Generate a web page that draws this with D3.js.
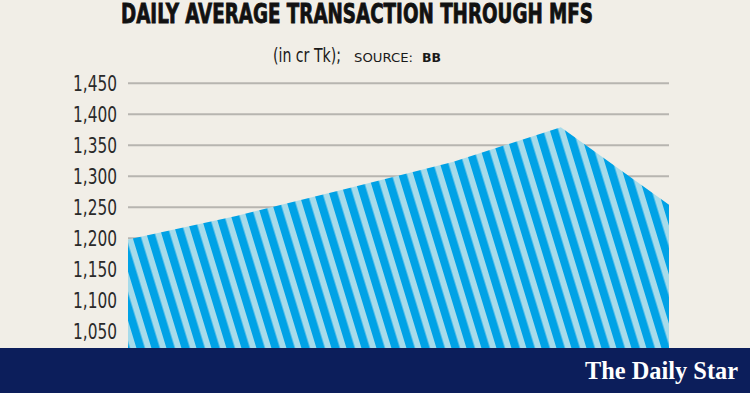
<!DOCTYPE html>
<html><head><meta charset="utf-8">
<script src="https://cdn.jsdelivr.net/npm/d3@7"></script>
<style>html,body{margin:0;padding:0;background:#f1eee7;}svg{display:block;}</style>
</head><body>
<svg id="c" width="750" height="393"></svg>
<script>
const periods = ["P1", "P2", "P3", "P4", "P5", "P6"];
const values = [1198, 1236, 1279, 1323, 1379, 1254];
const yTicks = [1050, 1100, 1150, 1200, 1250, 1300, 1350, 1400, 1450];
const titleText = "DAILY AVERAGE TRANSACTION THROUGH MFS";

const svg = d3.select("#c");
const W = 750, H = 393;
const condensed = "'Liberation Sans Narrow','DejaVu Sans Condensed',sans-serif";
svg.append("rect").attr("width", W).attr("height", H).attr("fill", "#f1eee7");

const defs = svg.append("defs");
const pat = defs.append("pattern").attr("id", "stripes")
  .attr("patternUnits", "userSpaceOnUse")
  .attr("width", 15).attr("height", 40)
  .attr("patternTransform", "skewX(17)");
pat.append("rect").attr("width", 15).attr("height", 40).attr("fill", "#a7dbea");
pat.append("rect").attr("width", 8.5).attr("height", 40).attr("fill", "#00a2e6");

const x = d3.scalePoint().domain(periods).range([128, 669]);
const y = d3.scaleLinear().domain([1000, 1450]).range([362.3, 83.3]);

// gridlines
svg.append("g").selectAll("line").data(yTicks).join("line")
  .attr("x1", 128).attr("x2", 669)
  .attr("y1", d => y(d)).attr("y2", d => y(d))
  .attr("stroke", "#b7b5b0").attr("stroke-width", 2);

// y axis labels
const yAxis = d3.axisLeft(y).tickValues(yTicks).tickFormat(d3.format(",")).tickSize(0).tickPadding(0);
const ga = svg.append("g").attr("transform", "translate(117,0)").call(yAxis);
ga.select(".domain").remove();
ga.selectAll("text")
  .attr("font-family", condensed)
  .attr("font-size", 22).attr("fill", "#2a2a2a")
  .attr("textLength", 44).attr("lengthAdjust", "spacingAndGlyphs");

// area
const data = periods.map((p, i) => ({p, v: values[i]}));
const area = d3.area().x(d => x(d.p)).y0(y(1000)).y1(d => y(d.v));
svg.append("path").datum(data).attr("d", area).attr("fill", "url(#stripes)");

// title
svg.append("text").attr("x", 357).attr("y", 22.5).attr("text-anchor", "middle")
  .attr("font-family", condensed)
  .attr("font-weight", "bold").attr("font-size", 26).attr("fill", "#111")
  .attr("stroke", "#111").attr("stroke-width", 0.8)
  .attr("textLength", 472).attr("lengthAdjust", "spacingAndGlyphs")
  .text(titleText);

// subtitle pieces: scaled horizontally to their target widths
function fitText(str, x0, y0, width, font, size, weight) {
  const t = svg.append("text").attr("font-family", font).attr("font-size", size)
    .attr("font-weight", weight).attr("fill", "#1a1a1a").text(str);
  const w = t.node().getComputedTextLength();
  t.attr("transform", `translate(${x0},${y0}) scale(${width / w},1)`);
  return t;
}
fitText("(in cr Tk);", 273, 62, 68, condensed, 20, "normal");
fitText("SOURCE:", 354, 62, 59, "'DejaVu Sans',sans-serif", 12, "normal");
fitText("BB", 422, 62, 19, "'DejaVu Sans',sans-serif", 12, "bold");

// banner
svg.append("rect").attr("x", 0).attr("y", 348).attr("width", W).attr("height", H - 348).attr("fill", "#0c1e5b");
svg.append("text").attr("x", 585).attr("y", 379)
  .attr("font-family", "'Liberation Serif','DejaVu Serif',serif").attr("font-weight", "bold")
  .attr("font-size", 25).attr("fill", "#ffffff")
  .attr("textLength", 153).attr("lengthAdjust", "spacingAndGlyphs")
  .text("The Daily Star");
</script>
</body></html>
